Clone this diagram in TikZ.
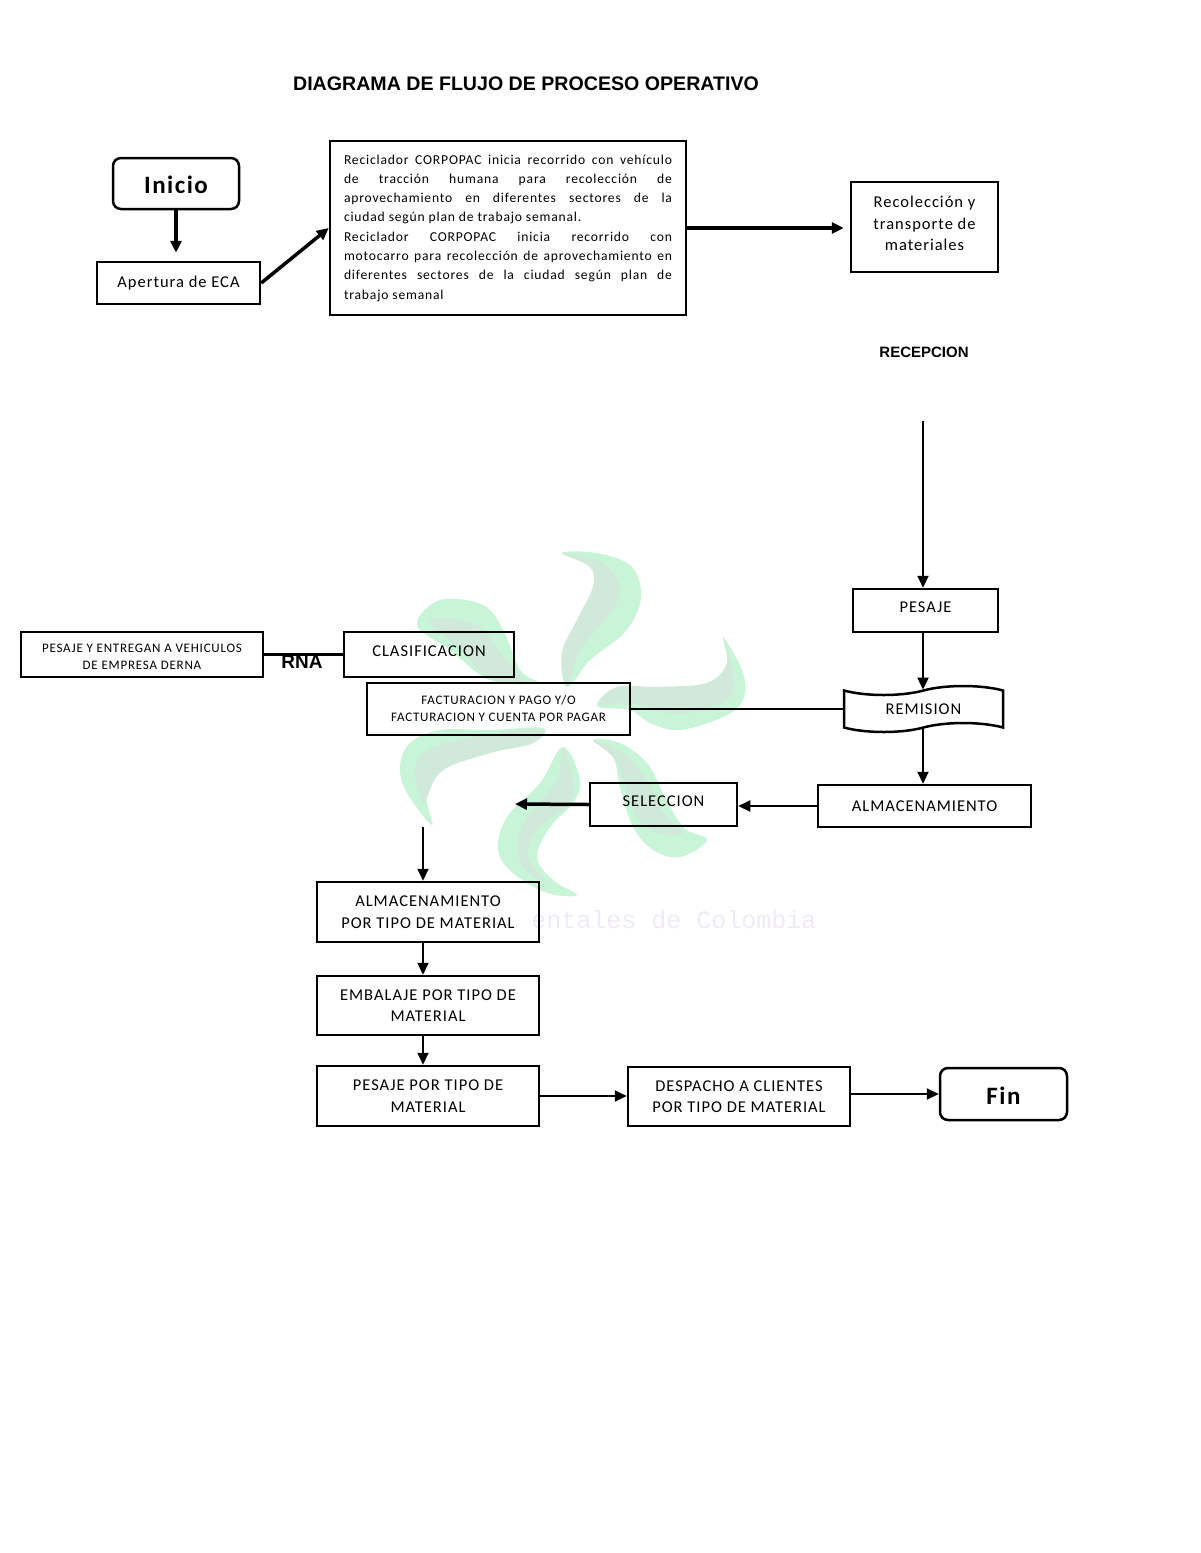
\documentclass[tikz,border=0pt]{standalone}
\usepackage{fontspec}
\setmainfont{Carlito}[LetterSpace=6]
\newfontfamily\titlefont{Liberation Sans}
\newfontfamily\marcafont{Liberation Mono}
\usetikzlibrary{positioning, arrows.meta, shapes.symbols}
\definecolor{hojaclara}{HTML}{C8F5D8}
\definecolor{hojaoscura}{HTML}{D1E9DB}
\definecolor{marcatexto}{HTML}{F0EAF7}
\begin{document}
\begin{tikzpicture}[x=1pt,y=-1pt]
	
	% estilos
	\tikzset{
		caja/.style = {
			draw, line width=2.5pt, inner sep=0pt, align=center,
			font=\fontsize{16.5}{21.5}\selectfont
		},
		alto/.style = {text depth=7pt},
		terminal/.style = {
			caja, rounded corners=8pt, text depth=0pt, text height=20pt,
			font=\bfseries\fontsize{25}{28}\selectfont
		},
		cajachica/.style = {
			caja, font=\fontsize{13}{17}\selectfont
		},
		flecha/.style = {
			line width=2pt, -{Triangle[length=12pt,width=11pt]}
		},
		flechagruesa/.style = {
			line width=3.5pt, -{Triangle[length=12pt,width=11pt]}
		},
		linea/.style = {line width=2.5pt},
		rotulo/.style = {font=\titlefont\bfseries},
		hoja/.style = {fill=hojaclara},
		hojafondo/.style = {fill=hojaoscura}
	}
	
	\useasboundingbox (0,0) rectangle (1200,1553);
	
	% marca de agua
	\fill[hoja] plot[smooth cycle, tension=0.6] coordinates {(562,553) (597,553) (630,565) (641,590) (636,615) (620,637) (590,660) (567,687) (562,653) (577,620) (593,587) (590,567)};
	\fill[hojafondo] plot[smooth cycle, tension=0.6] coordinates {(562,553) (603,563) (620,590) (607,617) (580,650) (567,687) (562,653) (577,620) (593,587) (590,567)};
	\fill[hoja] plot[smooth cycle, tension=0.6] coordinates {(417,625) (440,600) (483,605) (503,630) (520,670) (537,683) (490,680) (450,650)};
	\fill[hojafondo] plot[smooth cycle, tension=0.6] coordinates {(430,623) (447,618) (480,627) (500,653) (523,682) (490,678) (455,645)};
	\fill[hoja] plot[smooth cycle, tension=0.6] coordinates {(723,637) (743,673) (743,700) (723,717) (680,730) (650,723) (630,710) (597,706) (617,687) (657,687) (707,683) (727,663)};
	\fill[hojafondo] plot[smooth cycle, tension=0.6] coordinates {(723,637) (733,673) (730,697) (703,710) (670,713) (630,703) (600,704) (617,687) (657,687) (707,683) (727,663)};
	\fill[hoja] plot[smooth cycle, tension=0.6] coordinates {(432,825) (407,793) (400,767) (410,743) (440,730) (490,730) (543,728) (533,743) (490,753) (443,770) (427,797)};
	\fill[hojafondo] plot[smooth cycle, tension=0.6] coordinates {(540,729) (473,737) (427,750) (415,773) (423,803) (427,797) (443,770) (490,753) (533,743)};
	\fill[hoja] plot[smooth cycle, tension=0.6] coordinates {(563,747) (580,780) (573,803) (550,827) (537,857) (553,880) (577,895) (547,893) (513,873) (498,850) (507,817) (540,783)};
	\fill[hojafondo] plot[smooth cycle, tension=0.6] coordinates {(563,747) (573,780) (570,803) (537,830) (528,857) (547,883) (523,867) (518,840) (530,813) (557,780)};
	\fill[hoja] plot[smooth cycle, tension=0.6] coordinates {(593,740) (620,743) (647,763) (663,793) (683,827) (707,840) (680,857) (653,850) (633,827) (620,787) (613,757)};
	\fill[hojafondo] plot[smooth cycle, tension=0.6] coordinates {(593,740) (623,753) (647,780) (663,813) (683,833) (657,833) (637,817) (623,780) (613,757)};
	\node[anchor=east, text=marcatexto, font=\marcafont\fontsize{25}{28}\selectfont] (marca) at (820,920) {entales de Colombia};
	
	% titulo
	\node[rotulo, font=\titlefont\bfseries\fontsize{19.6}{22}\selectfont] (titulo) at (526,84) {DIAGRAMA DE FLUJO DE PROCESO OPERATIVO};
	\node[rotulo, font=\titlefont\bfseries\fontsize{15}{17}\selectfont] (recepcion) at (924,352) {RECEPCION};
	
	% primera fila
	\node[terminal, minimum width=126pt, minimum height=51pt] (inicio) at (176,183.5) {Inicio};
	\node[caja, minimum width=163pt, minimum height=42pt] (apertura) at (178.5,283) {Apertura de ECA};
	\node[caja, minimum width=356pt, minimum height=174pt, text width=328pt, align=justify, font=\fontsize{13.6}{19.3}\selectfont] (reciclador) at (508,228) {Reciclador CORPOPAC inicia recorrido con vehículo\linebreak de tracción humana para recolección de\linebreak aprovechamiento en diferentes sectores de la\linebreak ciudad según plan de trabajo semanal.\\ Reciclador CORPOPAC inicia recorrido con\linebreak motocarro para recolección de aprovechamiento en\linebreak diferentes sectores de la ciudad según plan de\linebreak trabajo semanal};
	\node[caja, alto, minimum width=147pt, minimum height=90pt] (recoleccion) at (924.5,227) {Recolección y\\transporte de\\materiales};
	
	% columna derecha
	\coordinate (ejederecho) at (923,421);
	\node[caja, alto, minimum width=145pt, minimum height=43pt] (pesaje) at (925.5,610.5) {PESAJE};
	\node[caja, shape=tape, tape bend top=in and out, tape bend bottom=in and out, tape bend height=9pt, text depth=0pt, minimum width=159pt, minimum height=46pt] (remision) at (923.5,709) {REMISION};
	\node[caja, minimum width=213pt, minimum height=42pt] (almacen) at (924.5,806) {ALMACENAMIENTO};
	\node[caja, alto, minimum width=147pt, minimum height=43pt] (seleccion) at (663.5,804.5) {SELECCION};
	\coordinate (finseleccion) at (515,804);
	
	% columna izquierda
	\node[cajachica, text height=30pt, minimum width=242pt, minimum height=45pt] (entrega) at (142,654.5) {PESAJE Y ENTREGAN A VEHICULOS\\DE EMPRESA DERNA};
	\node[caja, alto, minimum width=170pt, minimum height=45pt] (clasificacion) at (429,654.5) {CLASIFICACION};
	\node[rotulo, font=\titlefont\bfseries\fontsize{19}{22}\selectfont] (rna) at (302,662) {RNA};
	\node[cajachica, minimum width=263pt, minimum height=52pt] (facturacion) at (498.5,709) {FACTURACION Y PAGO Y/O\\FACTURACION Y CUENTA POR PAGAR};
	\coordinate (ejeizquierdo) at (423,827);
	\node[caja, minimum width=222pt, minimum height=60pt] (portipo) at (428,912) {ALMACENAMIENTO\\POR TIPO DE MATERIAL};
	\node[caja, minimum width=222pt, minimum height=59pt] (embalaje) at (428,1005.5) {EMBALAJE POR TIPO DE\\MATERIAL};
	\node[caja, minimum width=222pt, minimum height=60pt] (pesajetipo) at (428,1096) {PESAJE POR TIPO DE\\MATERIAL};
	\node[caja, minimum width=222pt, minimum height=59pt] (despacho) at (739,1096.5) {DESPACHO A CLIENTES\\POR TIPO DE MATERIAL};
	\node[terminal, minimum width=127pt, minimum height=52pt] (fin) at (1003.5,1094) {Fin};
	
	% conectores
	\draw[flechagruesa, shorten >=8pt] (inicio.south) -- (inicio.south |- apertura.north);
	\draw[flechagruesa] (apertura.east) -- (reciclador.west);
	\draw[flechagruesa, shorten >=6pt] (reciclador.east) -- (recoleccion.west |- reciclador.east);
	\draw[flecha] (ejederecho) -- (ejederecho |- pesaje.north);
	\draw[flecha] (pesaje.south -| ejederecho) -- (ejederecho |- remision.north);
	\draw[flecha] (remision.south -| ejederecho) -- (ejederecho |- almacen.north);
	\draw[flecha] (almacen.west) -- (seleccion.east |- almacen.west);
	\draw[flechagruesa] (seleccion.west) -- (finseleccion);
	\draw[linea] (remision.west) -- (facturacion.east);
	\draw[linea] (entrega.east) -- (clasificacion.west);
	\draw[flecha] (ejeizquierdo) -- (ejeizquierdo |- portipo.north);
	\draw[flecha] (portipo.south -| ejeizquierdo) -- (ejeizquierdo |- embalaje.north);
	\draw[flecha] (embalaje.south -| ejeizquierdo) -- (ejeizquierdo |- pesajetipo.north);
	\draw[flecha] (pesajetipo.east) -- (despacho.west |- pesajetipo.east);
	\draw[flecha] (despacho.east |- fin.west) -- (fin.west);
	
\end{tikzpicture}
\end{document}
